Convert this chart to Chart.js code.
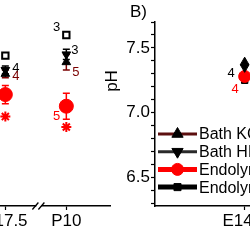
<!DOCTYPE html>
<html>
<head>
<meta charset="utf-8">
<script src="https://cdn.jsdelivr.net/npm/chart.js@4.4.0/dist/chart.umd.min.js"></script>
<style>
html, body { margin: 0; padding: 0; background: #fff; width: 250px; height: 250px; overflow: hidden; position: relative; }
#chartA { position: absolute; left: -60px; top: 0; }
#chartB { position: absolute; left: 95px; top: 0; }
</style>
</head>
<body>
<canvas id="chartA" width="178" height="250"></canvas>
<canvas id="chartB" width="336" height="250"></canvas>
<script>
// -------------------------
// DATA
// -------------------------
const ageLabelsA = ["E17.5", "P10"];
const ageLabelsB = ["E14.5"];

// panel A
const squareA = [7.44, 7.60];
const squareNA = ["", "3"];

const bathHepesA = [7.33, 7.45];
const bathHepesErrA = [0.03, 0.04];
const bathHepesNA = ["4", "3"];

const bathKclA = [7.30, 7.39];
const bathKclErrA = [0.03, 0.06];
const bathKclNA = ["4", "5"];

const endoKclA = [7.14, 7.05];
const endoKclErrA = [0.07, 0.10];
const endoKclNA = ["", "5"];

const starA = [6.97, 6.89];

// panel B
const bathKclB = [7.39];
const bathHepesB = [7.35];
const bathHepesNB = ["4"];
const endoKclB = [7.28];
const endoKclNB = ["4"];
const endoHepesB = [7.25];

const legendNames = ["Bath KCl", "Bath HEPES", "Endolymph KCl", "Endolymph HEPES"];
const yMajor = [6.5, 7.0, 7.5];
const yMin = 6.28, yMax = 7.7;

const DARKRED = '#7a0000';
Chart.defaults.font.family = "'Liberation Sans', Arial, sans-serif";
Chart.defaults.color = '#000';

function pts(vals) {
    return vals.map((v, i) => ({ x: i + 1, y: v }));
}

// -------------------------
// PLUGIN: error bars + n
// -------------------------
const extras = {
    id: 'extras',
    beforeDatasetsDraw(chart) {
        const ctx = chart.ctx, xs = chart.scales.x, ys = chart.scales.y;
        chart.data.datasets.forEach(ds => {
            if (!ds.errors) return;
            ctx.save();
            ctx.strokeStyle = ds.errColor;
            ctx.lineWidth = 1.5;
            ds.data.forEach((p, i) => {
                const e = ds.errors[i];
                if (!e) return;
                const px = xs.getPixelForValue(p.x);
                const top = ys.getPixelForValue(p.y + e);
                const bot = ys.getPixelForValue(p.y - e);
                ctx.beginPath();
                ctx.moveTo(px, top); ctx.lineTo(px, bot);
                ctx.moveTo(px - 3.5, top); ctx.lineTo(px + 3.5, top);
                ctx.moveTo(px - 3.5, bot); ctx.lineTo(px + 3.5, bot);
                ctx.stroke();
            });
            ctx.restore();
        });
    },
    afterDatasetsDraw(chart) {
        const ctx = chart.ctx, xs = chart.scales.x, ys = chart.scales.y;
        ctx.save();
        ctx.font = "13px 'Liberation Sans', Arial, sans-serif";
        ctx.textBaseline = 'middle';
        chart.data.datasets.forEach(ds => {
            if (!ds.nLabels) return;
            ctx.fillStyle = ds.nColor;
            ds.data.forEach((p, i) => {
                const t = ds.nLabels[i];
                if (!t) return;
                const off = ds.nOffsets[i];
                ctx.textAlign = off[0] < 0 ? 'right' : 'left';
                ctx.fillText(t, xs.getPixelForValue(p.x) + off[0], ys.getPixelForValue(p.y) + off[1]);
            });
        });
        ctx.restore();
    }
};

// -------------------------
// Y AXIS (shared)
// -------------------------
function yAxis(show) {
    return {
        display: show,
        min: yMin,
        max: yMax,
        afterBuildTicks: s => {
            const t = [];
            for (let v = 63; v <= 77; v++) t.push({ value: v / 10 });
            s.ticks = t;
        },
        afterFit: s => { s.width = show ? 60 : 0; },
        border: { display: true, color: '#000', width: 1.5 },
        grid: { drawOnChartArea: false, drawTicks: true, tickLength: 4, color: '#000', tickWidth: 1.2 },
        ticks: {
            autoSkip: false,
            padding: 1,
            font: { size: 17 },
            callback: v => yMajor.includes(v) ? v.toFixed(1) : ''
        }
    };
}

function xAxis(min, max, labels) {
    return {
        type: 'linear',
        min: min,
        max: max,
        afterBuildTicks: s => { s.ticks = labels.map((l, i) => ({ value: i + 1 })); },
        afterFit: s => { s.height = 44; },
        border: { display: true, color: '#000', width: 1.5 },
        grid: { drawOnChartArea: false, drawTicks: true, tickLength: 4, color: '#000', tickWidth: 1.2 },
        ticks: {
            autoSkip: false,
            maxRotation: 0,
            padding: 1,
            font: { size: 17 },
            callback: v => labels[v - 1]
        }
    };
}

const baseOpts = {
    responsive: false,
    animation: false,
    events: [],
    plugins: { legend: { display: false }, tooltip: { enabled: false } }
};

// -------------------------
// PANEL A
// -------------------------
const breakMark = {
    id: 'breakMark',
    afterDraw(chart) {
        const ctx = chart.ctx;
        const px = chart.scales.x.getPixelForValue(1.55);
        const py = chart.chartArea.bottom;
        ctx.save();
        ctx.fillStyle = '#fff';
        ctx.fillRect(px - 2.5, py - 2, 5, 4);
        ctx.strokeStyle = '#000';
        ctx.lineWidth = 1.3;
        ctx.beginPath();
        ctx.moveTo(px - 6.5, py + 3.5); ctx.lineTo(px - 0.5, py - 3.5);
        ctx.moveTo(px - 0.5, py + 3.5); ctx.lineTo(px + 5.5, py - 3.5);
        ctx.stroke();
        ctx.restore();
    }
};

new Chart(document.getElementById('chartA'), {
    type: 'scatter',
    data: {
        datasets: [
            {
                data: pts(squareA),
                pointStyle: 'rect', pointRadius: 4.5,
                pointBackgroundColor: '#fff', pointBorderColor: '#000', pointBorderWidth: 2,
                nLabels: squareNA, nColor: '#000', nOffsets: [[-6, -8], [-6, -8]]
            },
            {
                data: pts(bathHepesA),
                pointStyle: 'triangle', rotation: 180, pointRadius: 5,
                pointBackgroundColor: '#000', pointBorderColor: '#000', pointBorderWidth: 1,
                errors: bathHepesErrA, errColor: '#000',
                nLabels: bathHepesNA, nColor: '#000', nOffsets: [[7, -2], [5, -4]]
            },
            {
                data: pts(bathKclA),
                pointStyle: 'triangle', pointRadius: 5,
                pointBackgroundColor: '#000', pointBorderColor: '#000', pointBorderWidth: 1,
                errors: bathKclErrA, errColor: DARKRED,
                nLabels: bathKclNA, nColor: DARKRED, nOffsets: [[7, 3], [6, 10]]
            },
            {
                data: pts(endoKclA),
                pointStyle: 'circle', pointRadius: 7,
                pointBackgroundColor: '#f00', pointBorderColor: '#f00', pointBorderWidth: 1,
                errors: endoKclErrA, errColor: '#f00',
                nLabels: endoKclNA, nColor: '#f00', nOffsets: [[-6, 10], [-6, 10]]
            },
            {
                data: pts(starA),
                pointStyle: 'star', pointRadius: 5,
                pointBorderColor: '#f00', pointBorderWidth: 2
            }
        ]
    },
    options: Object.assign({}, baseOpts, {
        layout: { padding: { top: 22, left: 0, right: 0, bottom: 0 } },
        scales: {
            x: xAxis(0.0597, 2.716, ageLabelsA),
            y: yAxis(false)
        }
    }),
    plugins: [extras, breakMark]
});

// -------------------------
// PANEL B
// -------------------------
const panelBText = {
    id: 'panelBText',
    afterDraw(chart) {
        const ctx = chart.ctx, a = chart.chartArea;
        ctx.save();
        ctx.fillStyle = '#000';
        ctx.font = "17px 'Liberation Sans', Arial, sans-serif";
        ctx.textAlign = 'left';
        ctx.textBaseline = 'alphabetic';
        ctx.fillText('B)', a.left - 25, a.top - 5);

        // y title
        ctx.save();
        ctx.translate(a.left - 43, a.top + 59);
        ctx.rotate(-Math.PI / 2);
        ctx.textAlign = 'center';
        ctx.textBaseline = 'middle';
        ctx.fillText('pH', 0, 0);
        ctx.restore();

        // legend
        ctx.font = "16px 'Liberation Sans', Arial, sans-serif";
        ctx.textBaseline = 'middle';
        chart.data.datasets.forEach((ds, i) => {
            const y = a.top + 112 + i * 17.7;
            const x0 = a.left + 3;
            ctx.strokeStyle = ds.lineColor;
            ctx.lineWidth = ds.lineWidth;
            ctx.beginPath();
            ctx.moveTo(x0, y); ctx.lineTo(x0 + 39, y);
            ctx.stroke();
            ctx.fillStyle = ds.pointBackgroundColor;
            ctx.strokeStyle = ds.pointBorderColor;
            ctx.lineWidth = 1;
            Chart.helpers.drawPoint(ctx, {
                pointStyle: ds.pointStyle, rotation: ds.rotation || 0,
                radius: ds.legendRadius, borderWidth: 1
            }, x0 + 19.5, y);
            ctx.fillStyle = '#000';
            ctx.fillText(legendNames[i], x0 + 41, y + 1);
        });
        ctx.restore();
    }
};

new Chart(document.getElementById('chartB'), {
    type: 'scatter',
    data: {
        datasets: [
            {
                data: pts(bathKclB),
                pointStyle: 'triangle', pointRadius: 5,
                pointBackgroundColor: '#000', pointBorderColor: '#000', pointBorderWidth: 1,
                lineColor: '#5c0f0f', lineWidth: 3, legendRadius: 6.5
            },
            {
                data: pts(bathHepesB),
                pointStyle: 'triangle', rotation: 180, pointRadius: 5,
                pointBackgroundColor: '#000', pointBorderColor: '#000', pointBorderWidth: 1,
                nLabels: bathHepesNB, nColor: '#000', nOffsets: [[-10, 6]],
                lineColor: '#2a2a2a', lineWidth: 3, legendRadius: 6.5
            },
            {
                data: pts(endoKclB),
                pointStyle: 'circle', pointRadius: 6,
                pointBackgroundColor: '#f00', pointBorderColor: '#f00', pointBorderWidth: 1,
                nLabels: endoKclNB, nColor: '#f00', nOffsets: [[-6, 13]],
                lineColor: '#f00', lineWidth: 5, legendRadius: 6
            },
            {
                data: pts(endoHepesB),
                pointStyle: 'rect', pointRadius: 4.5,
                pointBackgroundColor: '#000', pointBorderColor: '#000', pointBorderWidth: 1,
                lineColor: '#000', lineWidth: 5, legendRadius: 5
            }
        ]
    },
    options: Object.assign({}, baseOpts, {
        layout: { padding: { top: 22, left: 0, right: 0, bottom: 0 } },
        scales: {
            x: xAxis(0, 3, ageLabelsB),
            y: yAxis(true)
        }
    }),
    plugins: [extras, panelBText]
});
</script>
</body>
</html>
